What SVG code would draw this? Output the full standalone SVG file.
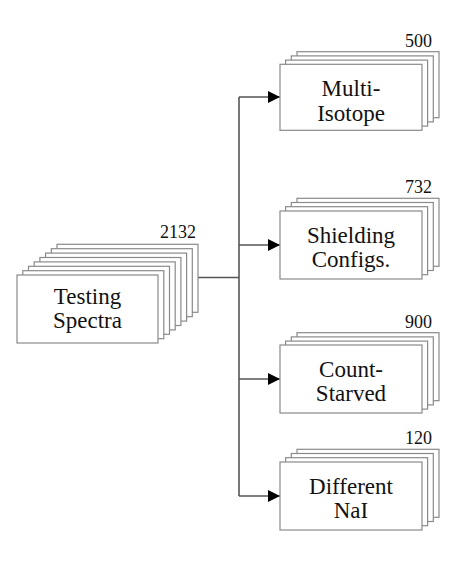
<svg xmlns="http://www.w3.org/2000/svg" width="474" height="573" viewBox="0 0 474 573">
<style>
.card{fill:#fff;stroke:#8a8a8a;stroke-width:1.2}
text{font-family:'Liberation Serif',Tinos,'Times New Roman',Times,'DejaVu Serif',serif;fill:#111}
.lbl{font-size:23px;text-anchor:middle}
.num{font-size:18px;text-anchor:end}
.wire{fill:none;stroke:#555;stroke-width:1.6}
</style>
<defs>
<marker id="ah" markerWidth="12" markerHeight="12" refX="12" refY="6" orient="auto" markerUnits="userSpaceOnUse">
<path d="M0,0 L12,6 L0,12 Z" fill="#000"/>
</marker>
</defs>
<rect width="474" height="573" fill="#fff"/>
<g id="connectors">
<path class="wire" d="M198,277.5 H239"/>
<path class="wire" d="M239,97 V496"/>
<path class="wire" d="M239,97 H280" marker-end="url(#ah)"/>
<path class="wire" d="M239,245 H280" marker-end="url(#ah)"/>
<path class="wire" d="M239,379 H280" marker-end="url(#ah)"/>
<path class="wire" d="M239,496 H280" marker-end="url(#ah)"/>
</g>
<g id="testing-spectra">
<rect class="card" x="57" y="244.3" width="141" height="68"/>
<rect class="card" x="51.3" y="248.7" width="141" height="68"/>
<rect class="card" x="45.6" y="253.1" width="141" height="68"/>
<rect class="card" x="39.9" y="257.5" width="141" height="68"/>
<rect class="card" x="34.2" y="261.9" width="141" height="68"/>
<rect class="card" x="28.5" y="266.3" width="141" height="68"/>
<rect class="card" x="22.8" y="270.7" width="141" height="68"/>
<rect class="card" x="17" y="275" width="141" height="68"/>
<text class="lbl" x="87.5" y="304" font-family="Liberation Serif, serif">Testing</text>
<text class="lbl" x="87.5" y="328" font-family="Liberation Serif, serif">Spectra</text>
<text class="num" x="196" y="238" font-family="Liberation Serif, serif">2132</text>
</g>
<g id="multi-isotope">
<rect class="card" x="297" y="51.7" width="142" height="66"/>
<rect class="card" x="291.3" y="55.9" width="142" height="66"/>
<rect class="card" x="285.6" y="60.1" width="142" height="66"/>
<rect class="card" x="280" y="64.3" width="142" height="66"/>
<text class="lbl" x="351" y="96">Multi-</text>
<text class="lbl" x="351" y="120.5">Isotope</text>
<text class="num" x="432" y="46.5">500</text>
</g>
<g id="shielding-configs">
<rect class="card" x="297" y="198.3" width="142" height="68"/>
<rect class="card" x="291.3" y="202.5" width="142" height="68"/>
<rect class="card" x="285.6" y="206.7" width="142" height="68"/>
<rect class="card" x="280" y="211" width="142" height="68"/>
<text class="lbl" x="351" y="243">Shielding</text>
<text class="lbl" x="351" y="267">Configs.</text>
<text class="num" x="432" y="193">732</text>
</g>
<g id="count-starved">
<rect class="card" x="297" y="332.7" width="142" height="68"/>
<rect class="card" x="291.3" y="336.9" width="142" height="68"/>
<rect class="card" x="285.6" y="341.1" width="142" height="68"/>
<rect class="card" x="280" y="345" width="142" height="68"/>
<text class="lbl" x="351" y="377">Count-</text>
<text class="lbl" x="351" y="401">Starved</text>
<text class="num" x="432" y="327.5">900</text>
</g>
<g id="different-nai">
<rect class="card" x="297" y="449.3" width="142" height="68"/>
<rect class="card" x="291.3" y="453.5" width="142" height="68"/>
<rect class="card" x="285.6" y="457.7" width="142" height="68"/>
<rect class="card" x="280" y="462" width="142" height="68"/>
<text class="lbl" x="351" y="494">Different</text>
<text class="lbl" x="351" y="518">NaI</text>
<text class="num" x="432" y="444">120</text>
</g>
</svg>
